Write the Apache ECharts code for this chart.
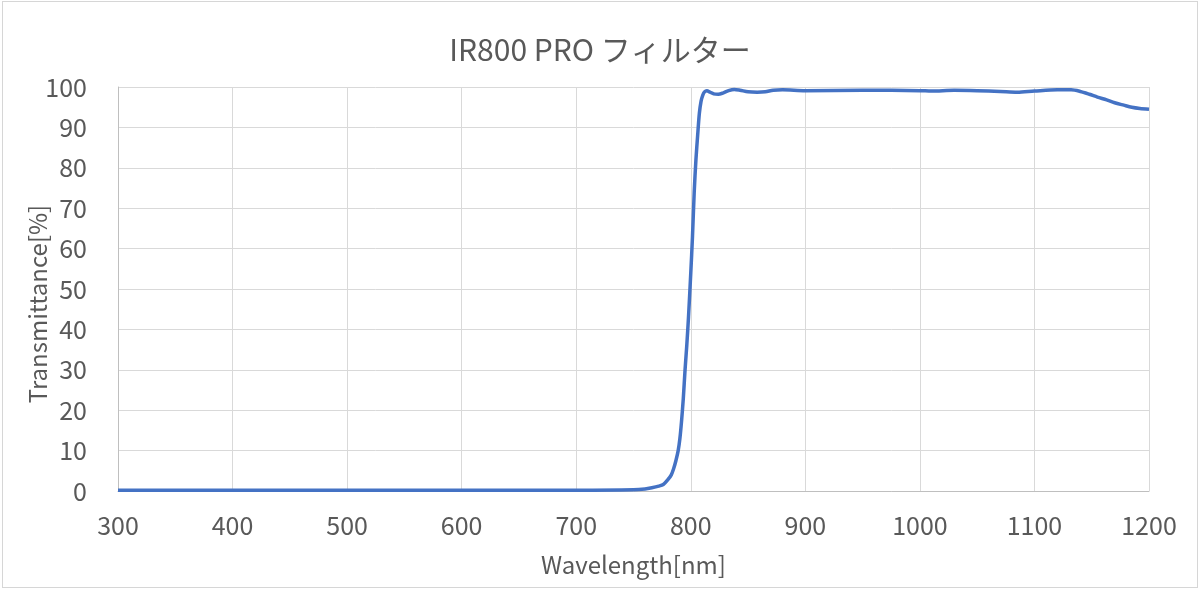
<!DOCTYPE html>
<html>
<head>
<meta charset="utf-8">
<script src="https://cdn.jsdelivr.net/npm/echarts@6/dist/echarts.min.js"></script>
<style>
html,body{margin:0;padding:0;background:#fff;}
#frame{position:absolute;left:2px;top:1px;width:1194px;height:585px;border:1px solid #d6d6d6;box-sizing:content-box;}
#chart{position:absolute;left:0;top:0;width:1200px;height:589px;}
</style>
</head>
<body>
<div id="frame"></div>
<div id="chart"></div>
<script>
const titleText = 'IR800 PRO フィルター';
const xName = 'Wavelength[nm]';
const yName = 'Transmittance[%]';
const wavelengths = [300,400,500,600,700,750,760,766,772,776,780,783,785,787,789,790.5,792,793.5,795,796.5,798,800,801.5,803,804.5,806,807.5,809,810.5,812,814,817,820,824,828,833,838,843,850,858,865,872,880,900,950,1000,1010,1030,1050,1070,1085,1100,1120,1132,1140,1148,1155,1163,1170,1178,1185,1192,1200];
const transmittance = [0.2,0.2,0.2,0.2,0.2,0.3,0.5,0.8,1.2,1.6,2.8,4.0,5.5,7.5,10,13,17.5,23,30,36,43,54,63,74,82,88,93.5,96.5,98,98.8,99.1,98.7,98.3,98.2,98.5,99.1,99.4,99.2,98.8,98.7,98.8,99.2,99.3,99.1,99.2,99.1,99.0,99.2,99.1,98.9,98.7,99.0,99.3,99.3,98.9,98.2,97.5,96.8,96.1,95.5,95.0,94.7,94.5];

const data = wavelengths.map((w, i) => [w, transmittance[i]]);
const FONT = '"Noto Sans CJK JP", "Noto Sans", sans-serif';
const chart = echarts.init(document.getElementById('chart'));
chart.setOption({
  animation: false,
  backgroundColor: 'transparent',
  title: {
    text: titleText,
    left: 'center',
    top: 30,
    textStyle: {fontFamily: FONT, fontSize: 30, fontWeight: 'normal', color: '#595959'}
  },
  grid: {left: 118, right: 51, top: 87, bottom: 98, containLabel: false},
  xAxis: {
    type: 'value', min: 300, max: 1200, interval: 100,
    name: xName, nameLocation: 'middle', nameGap: 62, nameMoveOverlap: false,
    nameTextStyle: {fontFamily: FONT, fontSize: 24, color: '#595959'},
    axisLine: {show: true, lineStyle: {color: '#bfbfbf', width: 1}},
    axisTick: {show: false},
    axisLabel: {fontFamily: FONT, fontSize: 25, color: '#595959', margin: 22, formatter: v => String(v)},
    splitLine: {show: true, lineStyle: {color: '#d9d9d9', width: 1}}
  },
  yAxis: {
    type: 'value', min: 0, max: 100, interval: 10,
    name: yName, nameLocation: 'middle', nameGap: 68, nameMoveOverlap: false,
    nameTextStyle: {fontFamily: FONT, fontSize: 24, color: '#595959', padding: [0, 30, 0, 0]},
    axisLine: {show: true, lineStyle: {color: '#bfbfbf', width: 1}},
    axisTick: {show: false},
    axisLabel: {fontFamily: FONT, fontSize: 25, color: '#595959', margin: 31, formatter: v => String(v)},
    splitLine: {show: true, lineStyle: {color: '#d9d9d9', width: 1}}
  },
  series: [{
    type: 'line',
    data: data,
    smooth: 0.3,
    showSymbol: false,
    lineStyle: {color: '#4472C4', width: 3.5},
    itemStyle: {color: '#4472C4'}
  }]
});
</script>
</body>
</html>
